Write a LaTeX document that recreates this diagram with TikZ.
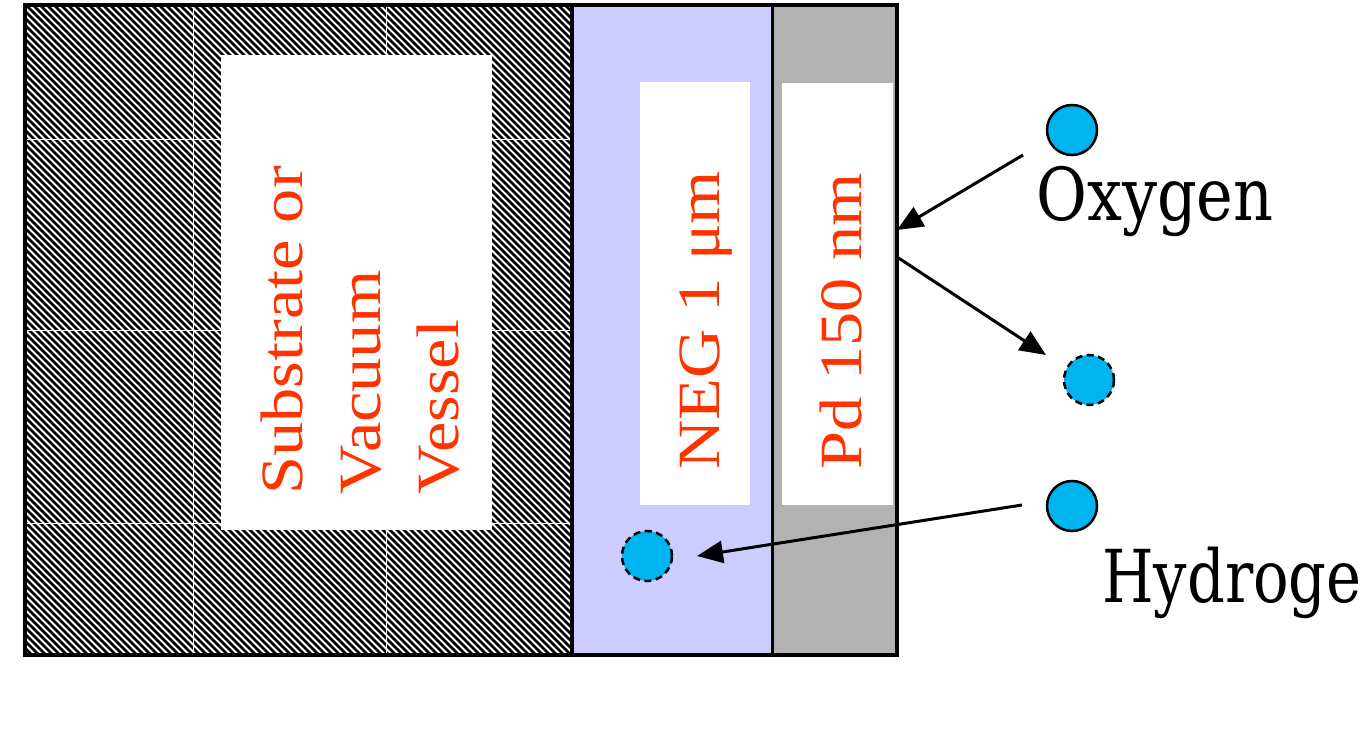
\documentclass[tikz,border=0pt]{standalone}
\usepackage{fontspec}
\setmainfont{Liberation Serif}
\newfontfamily\layfont{Liberation Serif}
\newfontfamily\labfont{DejaVu Serif}
\usetikzlibrary{arrows.meta}
\definecolor{lbl}{HTML}{FF3300}
\definecolor{neg}{HTML}{CCCCFF}
\definecolor{pd}{HTML}{B2B2B2}
\definecolor{atom}{HTML}{00B4F0}
\tikzset{
  layertext/.style={rotate=90, anchor=base west, text=lbl, inner sep=0pt,
    font=\layfont\fontsize{60}{70}\selectfont},
  gaslabel/.style={anchor=base west, inner sep=0pt, font=\labfont\fontsize{73}{80}\selectfont},
  atomsolid/.style={circle, draw, line width=2.5pt, fill=atom, minimum size=50pt, inner sep=0pt},
  atomdash/.style={atomsolid, dash pattern=on 7pt off 4.5pt},
  flow/.style={line width=3pt, -{Triangle[length=26pt,width=22pt]}},
}
\begin{document}
\begin{tikzpicture}[x=1pt,y=-1pt]
\useasboundingbox (0,0) rectangle (1366,733);
\fill[white] (0,0) rectangle (1366,733);
% substrate hatch
\begin{scope}
  \clip (25,5) rectangle (572,655);
  \fill[white] (25,5) rectangle (572,655);
  \foreach \i in {-665,-658,...,580} \draw[line width=2.7pt] (\i,0) -- ++(670,670);
  \foreach \xx in {193,386} \draw[white, line width=1pt] (\xx,5) -- (\xx,655);
  \foreach \yy in {140,330,523} \draw[white, line width=1pt] (25,\yy) -- (572,\yy);
\end{scope}
\fill[white] (221,55) rectangle (492,530);
% NEG and Pd layers
\fill[neg] (572,5) rectangle (772,655);
\fill[pd] (772,5) rectangle (897,655);
\fill[white] (640,82) rectangle (750,505);
\fill[white] (782,83) rectangle (893,505);
\draw[line width=3.5pt] (25,5) rectangle (897,655);
\draw[line width=3.5pt] (572,5) -- (572,655);
\draw[line width=3pt] (772,5) -- (772,655);
% layer labels
\node[layertext] (s1) at (302,495) {\scalebox{1.14}[1]{Substrate or}};
\node[layertext] (s2) at (380,495) {\scalebox{1.14}[1]{Vacuum}};
\node[layertext] (s3) at (458,495) {\scalebox{1.14}[1]{Vessel}};
\node[layertext] (negt) at (719,470) {\scalebox{1.14}[1]{NEG 1 μm}};
\node[layertext] (pdt) at (861,470) {\scalebox{1.14}[1]{Pd 150 nm}};
% atoms
\node[atomsolid] (ox) at (1072,130) {};
\node[atomdash] (oxo) at (1089,380) {};
\node[atomsolid] (hy) at (1072,506) {};
\node[atomdash] (hyin) at (647,556) {};
% gas labels
\node[gaslabel] (oxl) at (1036,220) {\scalebox{0.85}[1]{Oxygen}};
\node[gaslabel] (hyl) at (1102,602) {\scalebox{0.81}[1]{Hydroge}};
% arrows
\coordinate (a1s) at (1023,155);
\coordinate (a1e) at (897,230);
\coordinate (a2s) at (897,257);
\coordinate (a2e) at (1046,355);
\coordinate (a3s) at (1022,505);
\coordinate (a3e) at (697,556);
\draw[flow] (a1s) -- (a1e);
\draw[flow] (a2s) -- (a2e);
\draw[flow] (a3s) -- (a3e);
\end{tikzpicture}
\end{document}
